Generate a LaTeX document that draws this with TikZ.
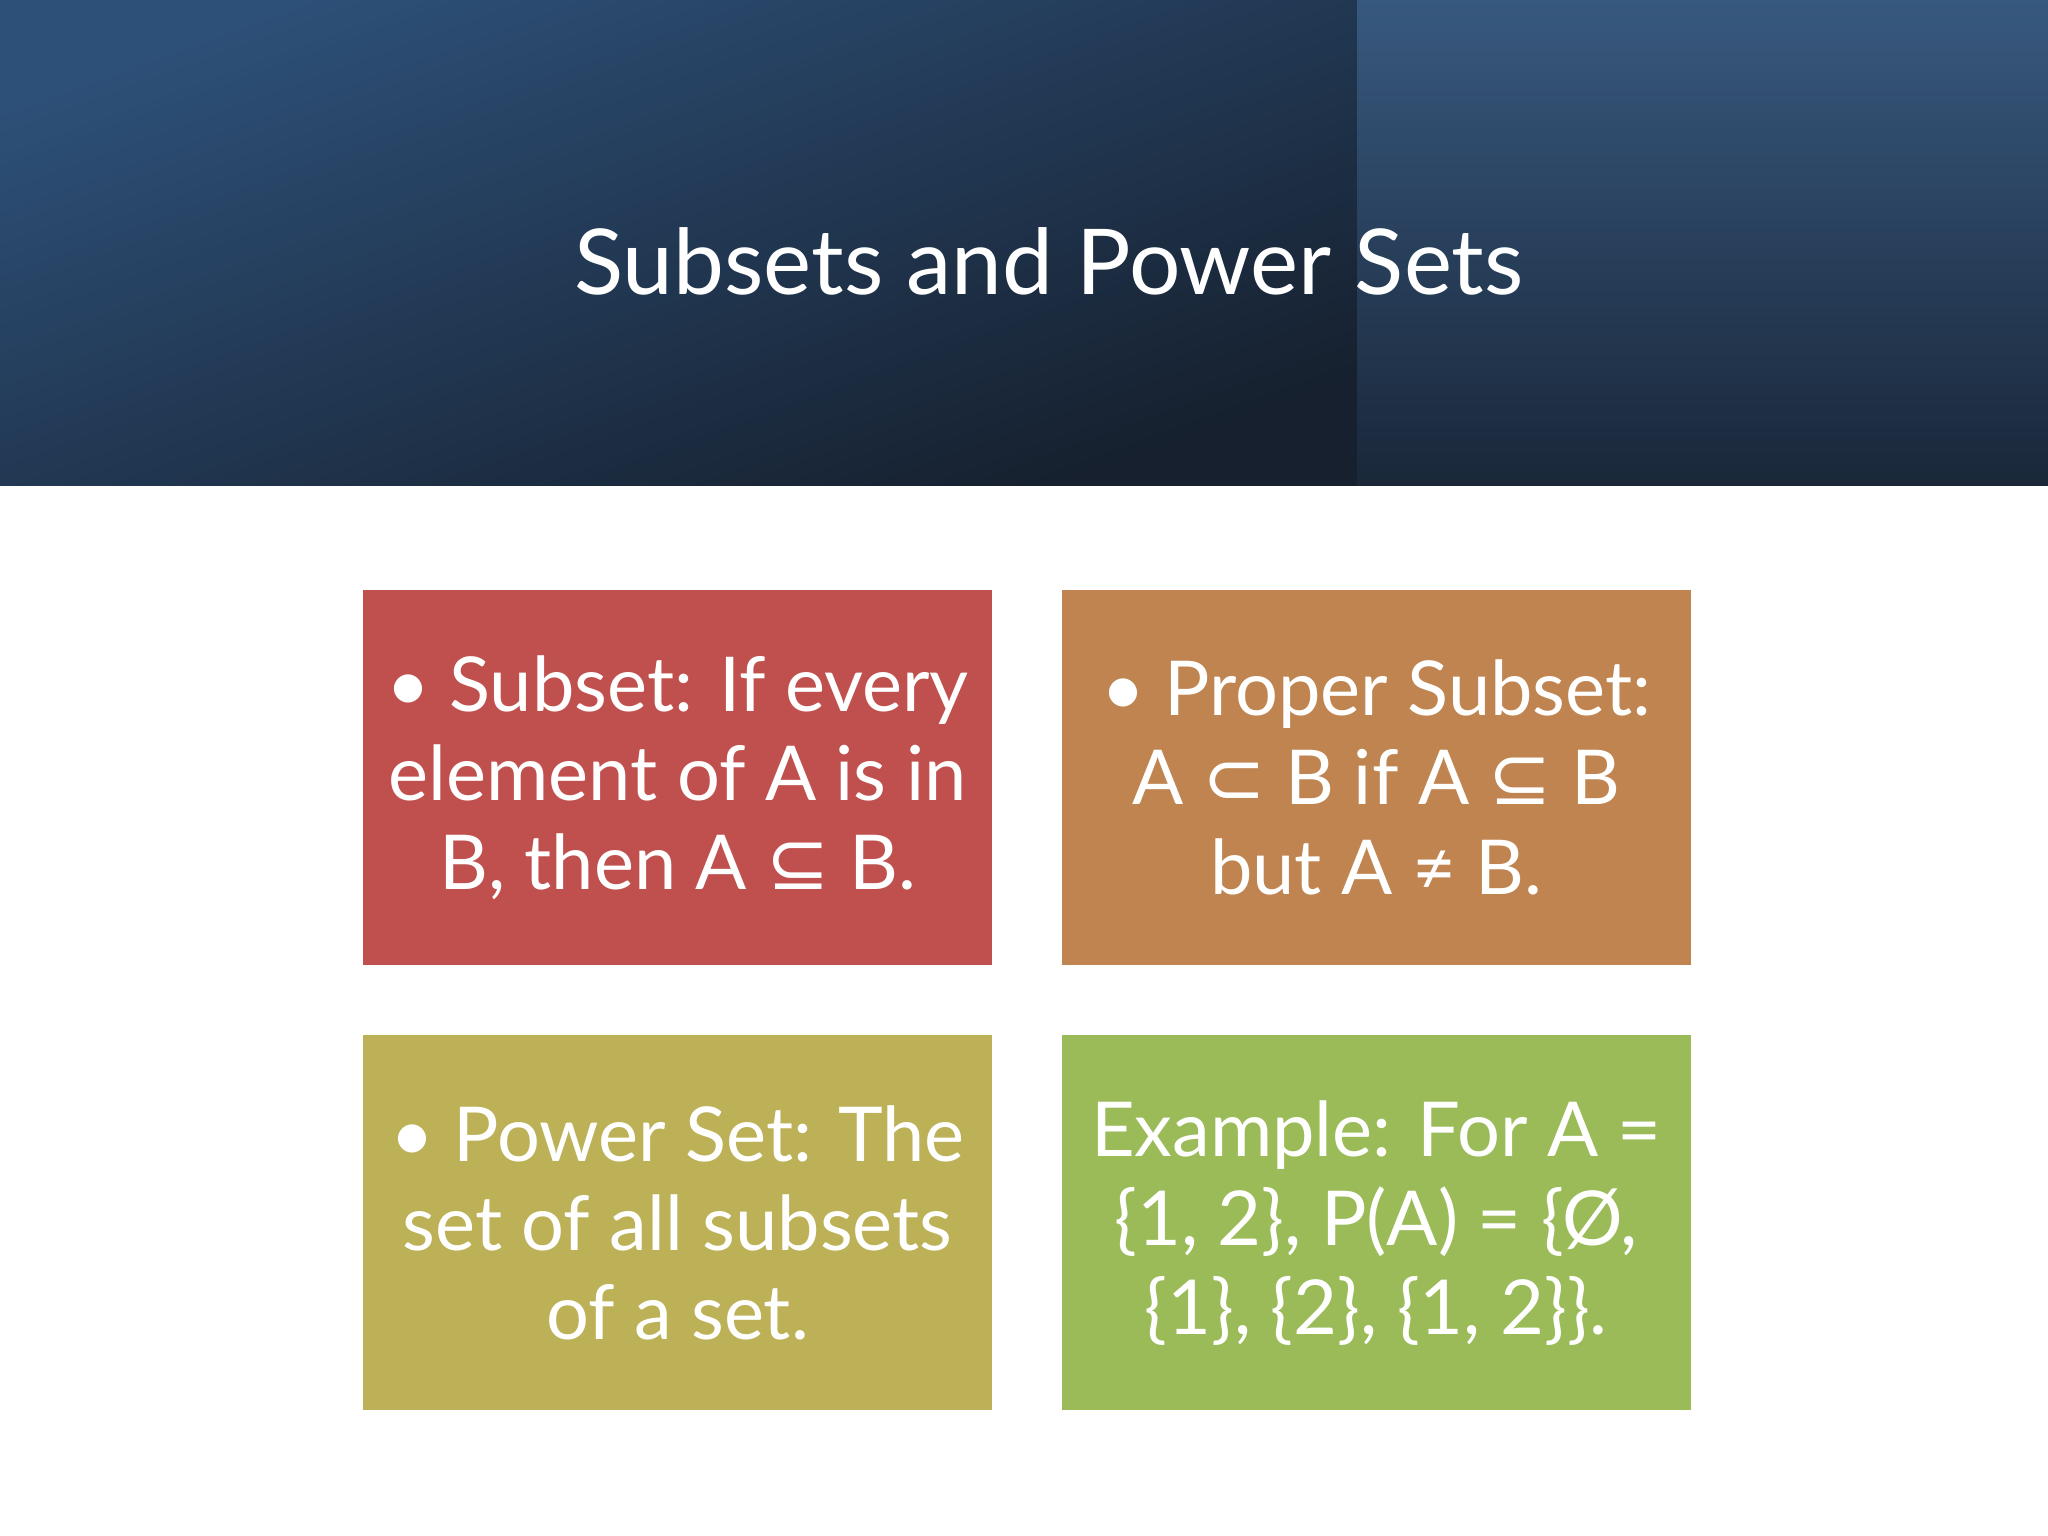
\documentclass[tikz,border=0pt]{standalone}
\usepackage{fontspec}
\setmainfont{Lato}
\newfontfamily\symf{DejaVu Sans}
\definecolor{hdA}{HTML}{2D5078}
\definecolor{hdB}{HTML}{16202E}
\definecolor{cred}{HTML}{C0504D}
\definecolor{corg}{HTML}{BF8450}
\definecolor{colv}{HTML}{BDB157}
\definecolor{cgrn}{HTML}{9BBB59}
\tikzset{card/.style={minimum width=4.82cm,minimum height=2.87cm,anchor=north west,text=white,align=center,font=\fontsize{16.5}{19.4}\selectfont,inner sep=0pt}}
\begin{document}
\begin{tikzpicture}[x=1cm,y=-1cm]
\useasboundingbox (0,0) rectangle (15.68,11.76);
\fill[white] (0,0) rectangle (15.68,11.76);
\shade[top color=hdA,bottom color=hdB,shading angle=20] (0,0) rectangle (10.39,3.72);
\shade[top color=hdA!95!white,bottom color=hdB!85!hdA] (10.39,0) rectangle (15.68,3.72);
\node[text=white,font=\fontsize{19.8}{24}\selectfont] (title) at (8.03,2.0) {Subsets and Power Sets};
\node[card,fill=cred] (a) at (2.77,4.51) {\textbullet\ Subset: If every\\ element of A is in\\ B, then A {\symf ⊆} B.};
\node[card,fill=corg] (b) at (8.12,4.51) {\textbullet\ Proper Subset:\\ A {\symf ⊂} B if A {\symf ⊆} B\\ but A ≠ B.};
\node[card,fill=colv] (c) at (2.77,7.92) {\textbullet\ Power Set: The\\ set of all subsets\\ of a set.};
\node[card,fill=cgrn] (d) at (8.12,7.92) {Example: For A =\\ \{1, 2\}, P(A) = \{Ø,\\ \{1\}, \{2\}, \{1, 2\}\}.};
\end{tikzpicture}
\end{document}
